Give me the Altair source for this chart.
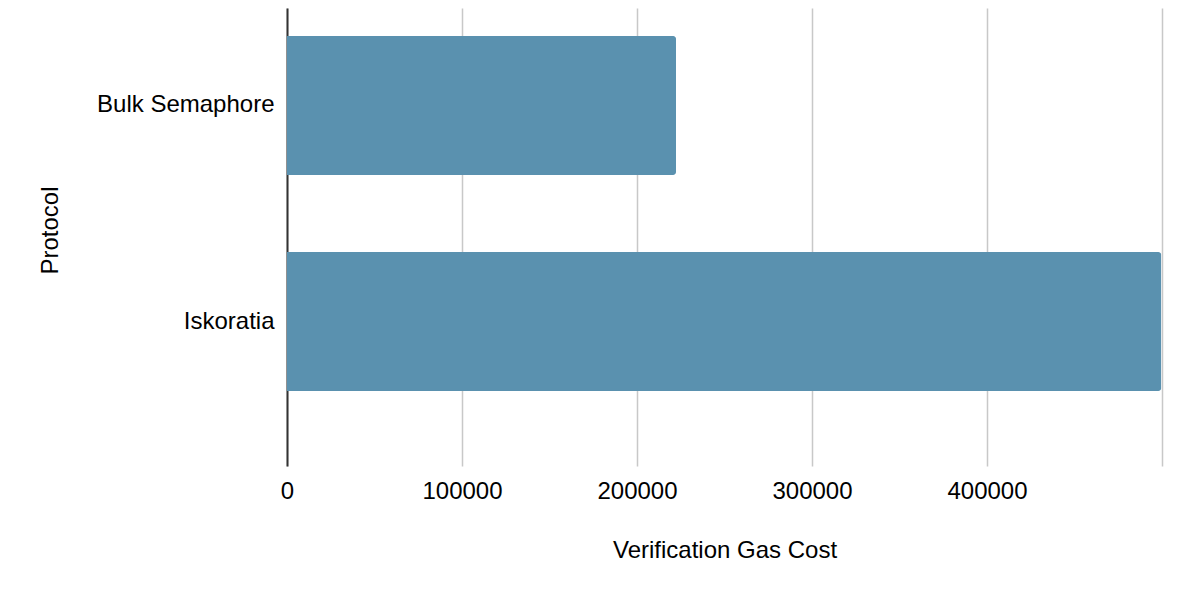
import altair as alt
import pandas as pd

protocols = ["Bulk Semaphore", "Iskoratia"]
gas_costs = [222300, 499600]
x_ticks = [0, 100000, 200000, 300000, 400000, 500000]

df = pd.DataFrame({"Protocol": protocols, "Verification Gas Cost": gas_costs})

FONT = "Liberation Sans"
FS = 24

chart = (
    alt.Chart(df)
    .mark_bar(color="#5A91AF", cornerRadiusEnd=3)
    .encode(
        x=alt.X(
            "Verification Gas Cost:Q",
            scale=alt.Scale(domain=[0, 500000], nice=False),
            axis=alt.Axis(
                values=x_ticks,
                format="d",
                labelExpr="datum.value >= 500000 ? '' : datum.label",
                labelFlush=False,
                grid=True,
                gridColor="#c8c8c8",
                gridWidth=1.5,
                domain=False,
                ticks=False,
                labelPadding=13,
                labelFont=FONT,
                labelFontSize=FS,
                labelColor="#000000",
                title="Verification Gas Cost",
                titleFont=FONT,
                titleFontSize=FS,
                titleFontWeight="normal",
                titleColor="#000000",
                titleBaseline="alphabetic",
                titleY=91,
            ),
        ),
        y=alt.Y(
            "Protocol:N",
            sort=None,
            scale=alt.Scale(paddingInner=0.3565, paddingOuter=0.2384, align=0.2718),
            axis=alt.Axis(
                grid=False,
                ticks=False,
                domain=True,
                domainColor="#333333",
                domainWidth=2,
                labelPadding=13,
                labelFont=FONT,
                labelFontSize=FS,
                labelColor="#000000",
                title="Protocol",
                titleFont=FONT,
                titleFontSize=FS,
                titleFontWeight="normal",
                titleColor="#000000",
                titleAngle=270,
                titleAlign="center",
                titleBaseline="alphabetic",
                titleX=-230,
                titleY=222,
            ),
        ),
    )
    .properties(
        width=875,
        height=458,
        autosize=alt.AutoSizeParams(type="none"),
        padding={"left": 279, "top": 0, "right": 20, "bottom": 110},
    )
    .configure_view(stroke=None)
)

chart.save("out.html", embed_options={"renderer": "svg", "actions": False})
